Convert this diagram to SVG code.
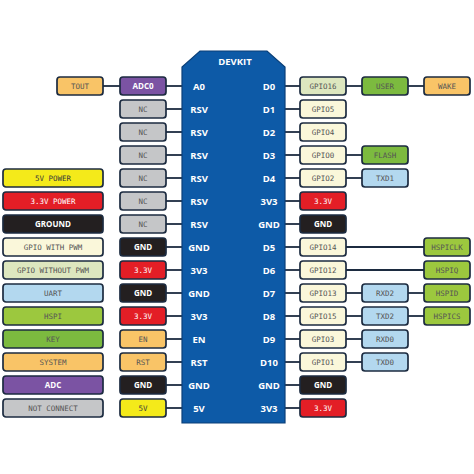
<svg xmlns="http://www.w3.org/2000/svg" width="474" height="474" viewBox="0 0 474 474">
<style>
rect.b{stroke:#1c2b40;stroke-width:1.7}
.t{font-family:"DejaVu Sans Mono","Liberation Mono",monospace;font-size:7.5px;text-anchor:middle;fill:#555}
.w{fill:#fff}
.d{fill:#3a3a3a}
.g{font-family:"Open Sans","Liberation Sans",sans-serif;font-weight:700;font-size:8px;text-anchor:middle;fill:#fff}
.p{font-family:"Open Sans","Liberation Sans",sans-serif;font-weight:700;font-size:9.5px;text-anchor:middle;fill:#fff}
.y{fill:#f4ea1a}.r{fill:#e31e26}.k{fill:#231f20}.c{fill:#faf7da}.l{fill:#dde7bf}.u{fill:#b3d8ef}
.h{fill:#9cc83e}.e{fill:#7cba3f}.o{fill:#f9c467}.v{fill:#7b53a3}.n{fill:#c5c6c8}
#conn line{stroke:#1c2b40;stroke-width:1.8}
</style>
<rect width="474" height="474" fill="#fff"/>
<g id="conn">
<line x1="103" y1="86" x2="120" y2="86"/>
<line x1="166" y1="86" x2="182" y2="86"/>
<line x1="166" y1="109" x2="182" y2="109"/>
<line x1="166" y1="132" x2="182" y2="132"/>
<line x1="166" y1="155" x2="182" y2="155"/>
<line x1="166" y1="178" x2="182" y2="178"/>
<line x1="166" y1="201" x2="182" y2="201"/>
<line x1="166" y1="224" x2="182" y2="224"/>
<line x1="166" y1="247" x2="182" y2="247"/>
<line x1="166" y1="270" x2="182" y2="270"/>
<line x1="166" y1="293" x2="182" y2="293"/>
<line x1="166" y1="316" x2="182" y2="316"/>
<line x1="166" y1="339" x2="182" y2="339"/>
<line x1="166" y1="362" x2="182" y2="362"/>
<line x1="166" y1="385" x2="182" y2="385"/>
<line x1="166" y1="408" x2="182" y2="408"/>
<line x1="285" y1="86" x2="300" y2="86"/>
<line x1="285" y1="109" x2="300" y2="109"/>
<line x1="285" y1="132" x2="300" y2="132"/>
<line x1="285" y1="155" x2="300" y2="155"/>
<line x1="285" y1="178" x2="300" y2="178"/>
<line x1="285" y1="201" x2="300" y2="201"/>
<line x1="285" y1="224" x2="300" y2="224"/>
<line x1="285" y1="247" x2="300" y2="247"/>
<line x1="285" y1="270" x2="300" y2="270"/>
<line x1="285" y1="293" x2="300" y2="293"/>
<line x1="285" y1="316" x2="300" y2="316"/>
<line x1="285" y1="339" x2="300" y2="339"/>
<line x1="285" y1="362" x2="300" y2="362"/>
<line x1="285" y1="385" x2="300" y2="385"/>
<line x1="285" y1="408" x2="300" y2="408"/>
<line x1="346" y1="86" x2="362" y2="86"/>
<line x1="408" y1="86" x2="424" y2="86"/>
<line x1="346" y1="155" x2="362" y2="155"/>
<line x1="346" y1="178" x2="362" y2="178"/>
<line x1="346" y1="247" x2="424" y2="247"/>
<line x1="346" y1="270" x2="424" y2="270"/>
<line x1="346" y1="293" x2="362" y2="293"/>
<line x1="408" y1="293" x2="424" y2="293"/>
<line x1="346" y1="316" x2="362" y2="316"/>
<line x1="408" y1="316" x2="424" y2="316"/>
<line x1="346" y1="339" x2="362" y2="339"/>
<line x1="346" y1="362" x2="362" y2="362"/>
</g>
<g id="chip">
<path d="M200,51 H267 L285,67 V423 H182 V67 Z" fill="#0d5aa7" stroke="#0a3f78" stroke-width="1.2"/>
<text class="p" x="235" y="65">DEVKIT</text>
<text class="p" x="199" y="89.5">A0</text>
<text class="p" x="199" y="112.5">RSV</text>
<text class="p" x="199" y="135.5">RSV</text>
<text class="p" x="199" y="158.5">RSV</text>
<text class="p" x="199" y="181.5">RSV</text>
<text class="p" x="199" y="204.5">RSV</text>
<text class="p" x="199" y="227.5">RSV</text>
<text class="p" x="199" y="250.5">GND</text>
<text class="p" x="199" y="273.5">3V3</text>
<text class="p" x="199" y="296.5">GND</text>
<text class="p" x="199" y="319.5">3V3</text>
<text class="p" x="199" y="342.5">EN</text>
<text class="p" x="199" y="365.5">RST</text>
<text class="p" x="199" y="388.5">GND</text>
<text class="p" x="199" y="411.5">5V</text>
<text class="p" x="269" y="89.5">D0</text>
<text class="p" x="269" y="112.5">D1</text>
<text class="p" x="269" y="135.5">D2</text>
<text class="p" x="269" y="158.5">D3</text>
<text class="p" x="269" y="181.5">D4</text>
<text class="p" x="269" y="204.5">3V3</text>
<text class="p" x="269" y="227.5">GND</text>
<text class="p" x="269" y="250.5">D5</text>
<text class="p" x="269" y="273.5">D6</text>
<text class="p" x="269" y="296.5">D7</text>
<text class="p" x="269" y="319.5">D8</text>
<text class="p" x="269" y="342.5">D9</text>
<text class="p" x="269" y="365.5">D10</text>
<text class="p" x="269" y="388.5">GND</text>
<text class="p" x="269" y="411.5">3V3</text>
</g>
<g id="legend">
<g id="lg-5v"><rect class="b y" x="3" y="169" width="100" height="18" rx="3"/><text class="t d" x="53" y="180.7">5V POWER</text></g>
<g id="lg-33v"><rect class="b r" x="3" y="192" width="100" height="18" rx="3"/><text class="t w" x="53" y="203.7">3.3V POWER</text></g>
<g id="lg-gnd"><rect class="b k" x="3" y="215" width="100" height="18" rx="3"/><text class="g" x="53" y="226.7">GROUND</text></g>
<g id="lg-pwm"><rect class="b c" x="3" y="238" width="100" height="18" rx="3"/><text class="t" x="53" y="249.7">GPIO WITH PWM</text></g>
<g id="lg-nopwm"><rect class="b l" x="3" y="261" width="100" height="18" rx="3"/><text class="t" x="53" y="272.7">GPIO WITHOUT PWM</text></g>
<g id="lg-uart"><rect class="b u" x="3" y="284" width="100" height="18" rx="3"/><text class="t" x="53" y="295.7">UART</text></g>
<g id="lg-hspi"><rect class="b h" x="3" y="307" width="100" height="18" rx="3"/><text class="t" x="53" y="318.7">HSPI</text></g>
<g id="lg-key"><rect class="b e" x="3" y="330" width="100" height="18" rx="3"/><text class="t" x="53" y="341.7">KEY</text></g>
<g id="lg-sys"><rect class="b o" x="3" y="353" width="100" height="18" rx="3"/><text class="t" x="53" y="364.7">SYSTEM</text></g>
<g id="lg-adc"><rect class="b v" x="3" y="376" width="100" height="18" rx="3"/><text class="g" x="53" y="387.7">ADC</text></g>
<g id="lg-nc"><rect class="b n" x="3" y="399" width="100" height="18" rx="3"/><text class="t" x="53" y="410.7">NOT CONNECT</text></g>
</g>
<g id="left-pins">
<g id="tout"><rect class="b o" x="57" y="77" width="46" height="18" rx="3"/><text class="t" x="80" y="88.7">TOUT</text></g>
<g id="adc0"><rect class="b v" x="120" y="77" width="46" height="18" rx="3"/><text class="g" x="143" y="88.7">ADC0</text></g>
<g id="nc1"><rect class="b n" x="120" y="100" width="46" height="18" rx="3"/><text class="t" x="143" y="111.7">NC</text></g>
<g id="nc2"><rect class="b n" x="120" y="123" width="46" height="18" rx="3"/><text class="t" x="143" y="134.7">NC</text></g>
<g id="nc3"><rect class="b n" x="120" y="146" width="46" height="18" rx="3"/><text class="t" x="143" y="157.7">NC</text></g>
<g id="nc4"><rect class="b n" x="120" y="169" width="46" height="18" rx="3"/><text class="t" x="143" y="180.7">NC</text></g>
<g id="nc5"><rect class="b n" x="120" y="192" width="46" height="18" rx="3"/><text class="t" x="143" y="203.7">NC</text></g>
<g id="nc6"><rect class="b n" x="120" y="215" width="46" height="18" rx="3"/><text class="t" x="143" y="226.7">NC</text></g>
<g id="lgnd1"><rect class="b k" x="120" y="238" width="46" height="18" rx="3"/><text class="g" x="143" y="249.7">GND</text></g>
<g id="l33a"><rect class="b r" x="120" y="261" width="46" height="18" rx="3"/><text class="t w" x="143" y="272.7">3.3V</text></g>
<g id="lgnd2"><rect class="b k" x="120" y="284" width="46" height="18" rx="3"/><text class="g" x="143" y="295.7">GND</text></g>
<g id="l33b"><rect class="b r" x="120" y="307" width="46" height="18" rx="3"/><text class="t w" x="143" y="318.7">3.3V</text></g>
<g id="en"><rect class="b o" x="120" y="330" width="46" height="18" rx="3"/><text class="t" x="143" y="341.7">EN</text></g>
<g id="rst"><rect class="b o" x="120" y="353" width="46" height="18" rx="3"/><text class="t" x="143" y="364.7">RST</text></g>
<g id="lgnd3"><rect class="b k" x="120" y="376" width="46" height="18" rx="3"/><text class="g" x="143" y="387.7">GND</text></g>
<g id="l5v"><rect class="b y" x="120" y="399" width="46" height="18" rx="3"/><text class="t d" x="143" y="410.7">5V</text></g>
</g>
<g id="right-pins">
<g id="gpio16"><rect class="b l" x="300" y="77" width="46" height="18" rx="3"/><text class="t" x="323" y="88.7">GPIO16</text></g>
<g id="user"><rect class="b e" x="362" y="77" width="46" height="18" rx="3"/><text class="t" x="385" y="88.7">USER</text></g>
<g id="wake"><rect class="b o" x="424" y="77" width="46" height="18" rx="3"/><text class="t" x="447" y="88.7">WAKE</text></g>
<g id="gpio5"><rect class="b c" x="300" y="100" width="46" height="18" rx="3"/><text class="t" x="323" y="111.7">GPIO5</text></g>
<g id="gpio4"><rect class="b c" x="300" y="123" width="46" height="18" rx="3"/><text class="t" x="323" y="134.7">GPIO4</text></g>
<g id="gpio0"><rect class="b c" x="300" y="146" width="46" height="18" rx="3"/><text class="t" x="323" y="157.7">GPIO0</text></g>
<g id="flash"><rect class="b e" x="362" y="146" width="46" height="18" rx="3"/><text class="t" x="385" y="157.7">FLASH</text></g>
<g id="gpio2"><rect class="b c" x="300" y="169" width="46" height="18" rx="3"/><text class="t" x="323" y="180.7">GPIO2</text></g>
<g id="txd1"><rect class="b u" x="362" y="169" width="46" height="18" rx="3"/><text class="t" x="385" y="180.7">TXD1</text></g>
<g id="r33a"><rect class="b r" x="300" y="192" width="46" height="18" rx="3"/><text class="t w" x="323" y="203.7">3.3V</text></g>
<g id="rgnd1"><rect class="b k" x="300" y="215" width="46" height="18" rx="3"/><text class="g" x="323" y="226.7">GND</text></g>
<g id="gpio14"><rect class="b c" x="300" y="238" width="46" height="18" rx="3"/><text class="t" x="323" y="249.7">GPIO14</text></g>
<g id="hspiclk"><rect class="b h" x="424" y="238" width="46" height="18" rx="3"/><text class="t" x="447" y="249.7">HSPICLK</text></g>
<g id="gpio12"><rect class="b c" x="300" y="261" width="46" height="18" rx="3"/><text class="t" x="323" y="272.7">GPIO12</text></g>
<g id="hspiq"><rect class="b h" x="424" y="261" width="46" height="18" rx="3"/><text class="t" x="447" y="272.7">HSPIQ</text></g>
<g id="gpio13"><rect class="b c" x="300" y="284" width="46" height="18" rx="3"/><text class="t" x="323" y="295.7">GPIO13</text></g>
<g id="rxd2"><rect class="b u" x="362" y="284" width="46" height="18" rx="3"/><text class="t" x="385" y="295.7">RXD2</text></g>
<g id="hspid"><rect class="b h" x="424" y="284" width="46" height="18" rx="3"/><text class="t" x="447" y="295.7">HSPID</text></g>
<g id="gpio15"><rect class="b c" x="300" y="307" width="46" height="18" rx="3"/><text class="t" x="323" y="318.7">GPIO15</text></g>
<g id="txd2"><rect class="b u" x="362" y="307" width="46" height="18" rx="3"/><text class="t" x="385" y="318.7">TXD2</text></g>
<g id="hspics"><rect class="b h" x="424" y="307" width="46" height="18" rx="3"/><text class="t" x="447" y="318.7">HSPICS</text></g>
<g id="gpio3"><rect class="b c" x="300" y="330" width="46" height="18" rx="3"/><text class="t" x="323" y="341.7">GPIO3</text></g>
<g id="rxd0"><rect class="b u" x="362" y="330" width="46" height="18" rx="3"/><text class="t" x="385" y="341.7">RXD0</text></g>
<g id="gpio1"><rect class="b c" x="300" y="353" width="46" height="18" rx="3"/><text class="t" x="323" y="364.7">GPIO1</text></g>
<g id="txd0"><rect class="b u" x="362" y="353" width="46" height="18" rx="3"/><text class="t" x="385" y="364.7">TXD0</text></g>
<g id="rgnd2"><rect class="b k" x="300" y="376" width="46" height="18" rx="3"/><text class="g" x="323" y="387.7">GND</text></g>
<g id="r33b"><rect class="b r" x="300" y="399" width="46" height="18" rx="3"/><text class="t w" x="323" y="410.7">3.3V</text></g>
</g>
</svg>
